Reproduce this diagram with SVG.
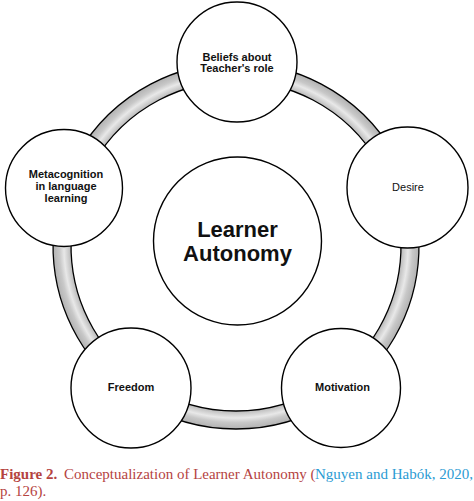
<svg xmlns="http://www.w3.org/2000/svg" width="474" height="501" viewBox="0 0 474 501">
<style>
.node{fill:#fff;stroke:#000;stroke-width:1.4}
.lb{font-family:"Liberation Sans",Arial,sans-serif;font-size:11px;font-weight:bold;text-anchor:middle;fill:#111}
.lr{font-family:"Liberation Sans",Arial,sans-serif;font-size:11px;text-anchor:middle;fill:#111}
.big{font-family:"Liberation Sans",Arial,sans-serif;font-size:22px;font-weight:bold;text-anchor:middle;fill:#111}
.cap{font-family:"Liberation Serif","Times New Roman",serif;font-size:15px}
.red{fill:#b5433f}
.blue{fill:#2b9bd3}
</style>
<defs>
<radialGradient id="tube" gradientUnits="userSpaceOnUse" cx="236" cy="246" r="183">
<stop offset="0.902" stop-color="#bababa"/>
<stop offset="0.94" stop-color="#e8e8e8"/>
<stop offset="0.965" stop-color="#c8c8c8"/>
<stop offset="1" stop-color="#b2b2b2"/>
</radialGradient>
</defs>
<rect width="474" height="501" fill="#fff"/>
<g id="connectors">
<path d="M236,63 a183,183 0 1,0 0.01,0 Z M236,81 a165,165 0 1,1 -0.01,0 Z" fill="url(#tube)" fill-rule="evenodd" stroke="#000" stroke-width="1.3"/>
</g>
<g id="center">
<circle class="node" cx="237.5" cy="241" r="84"/>
<text class="big" x="237.5" y="237">Learner</text>
<text class="big" x="237.5" y="261">Autonomy</text>
</g>
<g id="beliefs">
<circle class="node" cx="237" cy="62" r="60"/>
<text class="lb" x="237" y="61">Beliefs about</text>
<text class="lb" x="237" y="72">Teacher's role</text>
</g>
<g id="desire">
<circle class="node" cx="407.5" cy="187.5" r="60.5"/>
<text class="lr" x="408" y="191">Desire</text>
</g>
<g id="motivation">
<circle class="node" cx="341" cy="388" r="59.5"/>
<text class="lb" x="342.5" y="391">Motivation</text>
</g>
<g id="freedom">
<circle class="node" cx="131" cy="388" r="60"/>
<text class="lb" x="131" y="391">Freedom</text>
</g>
<g id="metacognition">
<circle class="node" cx="64" cy="188" r="58.5"/>
<text class="lb" x="66" y="178">Metacognition</text>
<text class="lb" x="66" y="190">in language</text>
<text class="lb" x="66" y="202">learning</text>
</g>
<g id="caption">
<text class="cap red" x="0" y="479" font-weight="bold">Figure 2.</text>
<text class="cap red" x="64" y="479">Conceptualization of Learner Autonomy (</text>
<text class="cap blue" x="315" y="479">Nguyen and Habók, 2020,</text>
<text class="cap red" x="0" y="496">p. 126).</text>
</g>
</svg>
